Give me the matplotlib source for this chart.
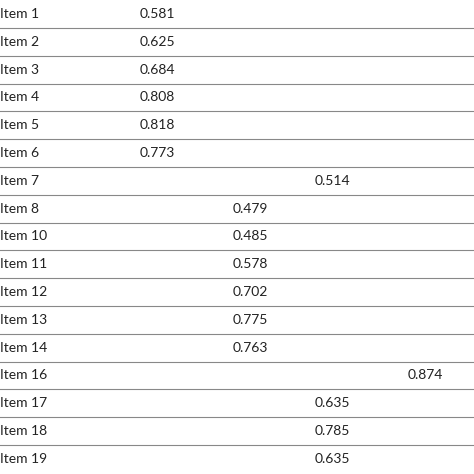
import matplotlib
matplotlib.use("Agg")
import matplotlib.pyplot as plt

items = ["Item 1","Item 2","Item 3","Item 4","Item 5","Item 6","Item 7","Item 8","Item 10",
         "Item 11","Item 12","Item 13","Item 14","Item 16","Item 17","Item 18","Item 19"]
loadings = ["0.581","0.625","0.684","0.808","0.818","0.773","0.514","0.479","0.485",
            "0.578","0.702","0.775","0.763","0.874","0.635","0.785","0.635"]
factor = [1,1,1,1,1,1,3,2,2,2,2,2,2,4,3,3,3]
col_x = {1:140, 2:233, 3:315, 4:408}

fig = plt.figure(figsize=(4.74,4.74), dpi=100)
ax = fig.add_axes([0,0,1,1])
ax.set_xlim(0,474); ax.set_ylim(474,0); ax.axis("off")
step = 27.8
for i,(it,v,f) in enumerate(zip(items,loadings,factor)):
    y = 14 + i*step
    ax.text(0, y, it, va="center", ha="left", fontsize=10, family="Lato", color="#222222")
    ax.text(col_x[f], y, v, va="center", ha="left", fontsize=10, family="Lato", color="#222222")
    if i < len(items)-1:
        ax.plot([0,474],[y+step/2,y+step/2], color="#888888", lw=0.8)
fig.savefig("out.png", dpi=100)
